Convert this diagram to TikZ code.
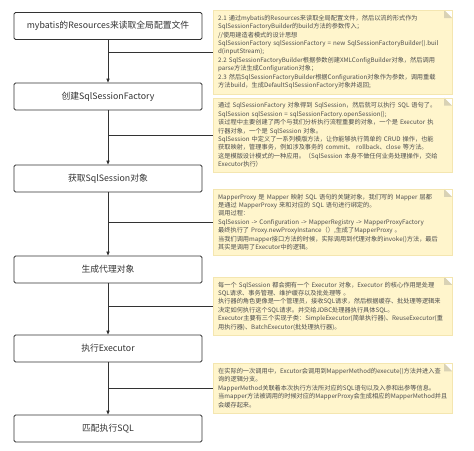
\documentclass[tikz,border=0pt]{standalone}
\usepackage{fontspec}
\setmainfont{Noto Sans CJK SC}
\usetikzlibrary{arrows.meta}
\definecolor{boxline}{HTML}{333333}
\definecolor{notefill}{HTML}{FFF5CC}
\definecolor{noteline}{HTML}{F4E6B0}
\definecolor{notefold}{HTML}{D9D2B5}
\definecolor{notetext}{HTML}{4D4D4D}
\begin{document}
\begin{tikzpicture}[x=1pt,y=-1pt,
    flowbox/.style={draw=boxline, line width=0.8pt, rounded corners=1.5pt, fill=white,
      minimum width=188pt, minimum height=27pt, text=boxline,
      font=\fontsize{8.8}{10}\selectfont},
    notebox/.style={anchor=west, fill=notefill, draw=noteline, line width=0.3pt,
      text width=229pt, inner xsep=5pt, inner ysep=5pt, align=left, text=notetext,
      font=\fontsize{6.2}{8.4}\selectfont,
      path picture={
        \fill[white] ([xshift=-8pt]path picture bounding box.north east)
          -- (path picture bounding box.north east)
          -- ([yshift=-8pt]path picture bounding box.north east) -- cycle;
        \fill[notefold] ([xshift=-8pt]path picture bounding box.north east)
          -- ([xshift=-8pt,yshift=-8pt]path picture bounding box.north east)
          -- ([yshift=-8pt]path picture bounding box.north east) -- cycle;}},
    flow/.style={draw=boxline, line width=0.7pt, -{Triangle[length=4pt,width=3.2pt]}},
    link/.style={draw=boxline, line width=0.7pt}]

    \useasboundingbox (0,0) rectangle (474,450);

    % main steps
    \node[flowbox] (b1) at (108,26) {mybatis的Resources来读取全局配置文件};
    \node[flowbox] (b2) at (108,96.5) {创建SqlSessionFactory};
    \node[flowbox] (b3) at (108,178.5) {获取SqlSession对象};
    \node[flowbox] (b4) at (108,269.5) {生成代理对象};
    \node[flowbox] (b5) at (108,348.5) {执行Executor};
    \node[flowbox] (b6) at (108,428.5) {匹配执行SQL};

    % notes
    \node[notebox] (n1) at (213,52) {2.1 通过mybatis的Resources来读取全局配置文件，然后以流的形式作为\\
      SqlSessionFactoryBuilder的build方法的参数传入；\\
      //使用建造者模式的设计思想\\
      SqlSessionFactory sqlSessionFactory = new SqlSessionFactoryBuilder().buil\\
      d(inputStream);\\
      2.2 SqlSessionFactoryBuilder根据参数创建XMLConfigBuilder对象，然后调用\\
      parse方法生成Configuration对象；\\
      2.3 然后SqlSessionFactoryBuilder根据Configuration对象作为参数，调用重载\\
      方法build，生成DefaultSqlSessionFactory对象并返回;};
    \node[notebox] (n2) at (213,135) {通过 SqlSessionFactory 对象得到 SqlSession，然后就可以执行 SQL 语句了。\\
      SqlSession sqlSession = sqlSessionFactory.openSession();\\
      该过程中主要创建了两个与我们分析执行流程重要的对象，一个是 Executor 执\\
      行器对象，一个是 SqlSession 对象。\\
      SqlSession 中定义了一系列模版方法，让你能够执行简单的 CRUD 操作，也能\\
      获取映射，管理事务，例如涉及事务的 commit、 rollback、close 等方法。\\
      这是模版设计模式的一种应用。（SqlSession 本身不做任何业务处理操作，交给\\
      Executor执行）};
    \node[notebox] (n3) at (213,222) {MapperProxy 是 Mapper 映射 SQL 语句的关键对象，我们写的 Mapper 层都\\
      是通过 MapperProxy 来和对应的 SQL 语句进行绑定的。\\
      调用过程：\\
      SqlSession -> Configuration -> MapperRegistry -> MapperProxyFactory\\
      最终执行了 Proxy.newProxyInstance（）,生成了MapperProxy 。\\
      当我们调用mapper接口方法的时候，实际调用到代理对象的invoke()方法，最后\\
      其实是调用了Executor中的逻辑。};
    \node[notebox] (n4) at (213,306) {每一个 SqlSession 都会拥有一个 Executor 对象，Executor 的核心作用是处理\\
      SQL请求、事务管理、维护缓存以及批处理等 。\\
      执行器的角色更像是一个管理员，接收SQL请求，然后根据缓存、批处理等逻辑来\\
      决定如何执行这个SQL请求。并交给JDBC处理器执行具体SQL。\\
      Executor主要有三个实现子类：SimpleExecutor(简单执行器)、ReuseExecutor(重\\
      用执行器)、BatchExecutor(批处理执行器)。};
    \node[notebox] (n5) at (213,388) {在实际的一次调用中，Excutor会调用到MapperMethod的execute()方法并进入查\\
      询的逻辑分支。\\
      MapperMethod关联着本次执行方法所对应的SQL语句以及入参和出参等信息。\\
      当mapper方法被调用的时候对应的MapperProxy会生成相应的MapperMethod并且\\
      会缓存起来。};

    % junctions on the main line
    \coordinate (j1) at (b1.south |- n1.west);
    \coordinate (j2) at (b2.south |- n2.west);
    \coordinate (j3) at (b3.south |- n3.west);
    \coordinate (j4) at (b4.south |- n4.west);
    \coordinate (j5) at (b5.south |- n5.west);

    \draw[flow] (b1) -- (b2);
    \draw[flow] (b2) -- (b3);
    \draw[flow] (b3) -- (b4);
    \draw[flow] (b4) -- (b5);
    \draw[flow] (b5) -- (b6);

    \draw[link] (j1) -- (n1.west);
    \draw[link] (j2) -- (n2.west);
    \draw[link] (j3) -- (n3.west);
    \draw[link] (j4) -- (n4.west);
    \draw[link] (j5) -- (n5.west);

  \end{tikzpicture}
\end{document}
